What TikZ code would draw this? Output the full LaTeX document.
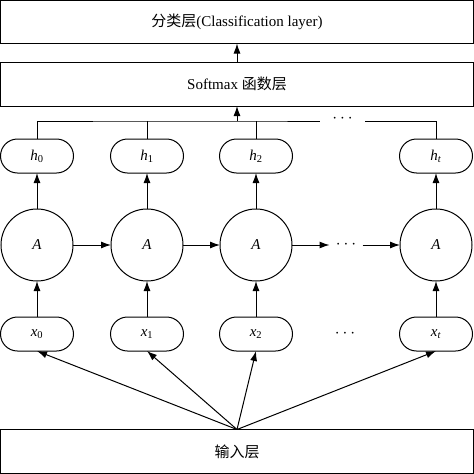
\documentclass[tikz,border=0pt]{standalone}
\usepackage{fontspec}
\setmainfont{Liberation Serif}
\newfontfamily\cjk{Noto Sans CJK SC}
\usetikzlibrary{arrows.meta}
\begin{document}
\begin{tikzpicture}[x=1pt,y=-1pt,line width=1pt,
  font=\fontsize{15}{18}\selectfont,
  >={Latex[length=10pt,width=7pt]},
  layerbox/.style={draw,minimum width=473pt,inner sep=0pt,outer sep=0pt},
  hnode/.style={draw,rounded corners=17pt,minimum width=73pt,minimum height=34pt,inner sep=0pt,outer sep=0pt},
  cell/.style={draw,circle,minimum size=72pt,inner sep=0pt,outer sep=0pt},
  dotsnode/.style={inner sep=0pt,outer sep=0pt,minimum height=10pt,font=\fontsize{17}{18}\selectfont}]
\useasboundingbox (0,0) rectangle (474,474);
% layer boxes
\node[layerbox,minimum height=43pt] (cls) at (237,22) {{\cjk 分类层}(Classification layer)};
\node[layerbox,minimum height=44pt] (soft) at (237,84) {Softmax {\cjk 函数层}};
\node[layerbox,minimum height=44pt] (inp) at (237,451.5) {\cjk 输入层};
% h nodes
\node[hnode] (h0) at (37,156) {\textit{h}\textsubscript{0}};
\node[hnode] (h1) at (147,156) {\textit{h}\textsubscript{1}};
\node[hnode] (h2) at (256,156) {\textit{h}\textsubscript{2}};
\node[hnode] (h3) at (436,156) {\textit{h}\textsubscript{\textit{t}}};
% cells
\node[cell] (A0) at (37,245) {\textit{A}};
\node[cell] (A1) at (147,245) {\textit{A}};
\node[cell] (A2) at (256,245) {\textit{A}};
\node[cell] (A3) at (436,245) {\textit{A}};
% x nodes
\node[hnode] (x0) at (37,334) {\textit{x}\textsubscript{0}};
\node[hnode] (x1) at (147,334) {\textit{x}\textsubscript{1}};
\node[hnode] (x2) at (256,334) {\textit{x}\textsubscript{2}};
\node[hnode] (x3) at (436,334) {\textit{x}\textsubscript{\textit{t}}};
\node[dotsnode] (xd) at (345,334) {$\cdots$};
% collector line
\coordinate (t0) at (37,121);
\coordinate (t1) at (147,121);
\coordinate (tm) at (237,121);
\coordinate (t2) at (256,121);
\coordinate (t3) at (436,121);
\node[dotsnode,minimum width=45pt] (td) at (342.5,119) {$\cdots$};
\draw (h0.north) -- (t0) -- (t1) -- (t2) -- (td.west |- t2);
\draw (td.east |- t3) -- (t3) -- (h3.north);
\draw (h1.north) -- (t1);
\draw (h2.north) -- (t2);
\draw[->] (tm) -- (soft.south);
\draw[->] (soft.north) -- (cls.south);
% cell arrows
\node[dotsnode,minimum width=33pt] (cd) at (346,245) {$\cdots$};
\draw[->] (A0) -- (A1);
\draw[->] (A1) -- (A2);
\draw[->] (A2) -- (cd.west);
\draw[->] (cd.east) -- (A3);
\foreach \i in {0,1,2,3}{
  \draw[->] (A\i.north) -- (h\i.south);
  \draw[->] (x\i.north) -- (A\i.south);
  \draw[->] (inp.north) -- (x\i.south);
}
\end{tikzpicture}
\end{document}
